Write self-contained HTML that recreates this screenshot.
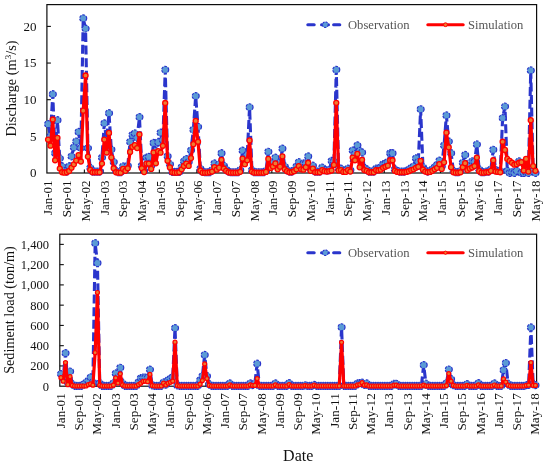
<!DOCTYPE html>
<html lang="en"><head><meta charset="utf-8"><title>Observation vs Simulation</title>
<style>html,body{margin:0;padding:0;background:#fff}svg{display:block}</style></head>
<body>
<svg width="550" height="467" viewBox="0 0 550 467" font-family="'Liberation Serif', serif">
<rect width="550" height="467" fill="#fff"/>
<g id="top">
<rect x="46.9" y="4.6" width="489.7" height="168.4" fill="none" stroke="#0d0d0d" stroke-width="1.2"/>
<g stroke="#0d0d0d" stroke-width="1.1">
<line x1="46.9" y1="136.35" x2="50.9" y2="136.35"/>
<line x1="46.9" y1="99.7" x2="50.9" y2="99.7"/>
<line x1="46.9" y1="63.05" x2="50.9" y2="63.05"/>
<line x1="46.9" y1="26.4" x2="50.9" y2="26.4"/>
<line x1="65.64" y1="173" x2="65.64" y2="169.5"/>
<line x1="84.39" y1="173" x2="84.39" y2="169.5"/>
<line x1="103.13" y1="173" x2="103.13" y2="169.5"/>
<line x1="121.88" y1="173" x2="121.88" y2="169.5"/>
<line x1="140.62" y1="173" x2="140.62" y2="169.5"/>
<line x1="159.37" y1="173" x2="159.37" y2="169.5"/>
<line x1="178.11" y1="173" x2="178.11" y2="169.5"/>
<line x1="196.86" y1="173" x2="196.86" y2="169.5"/>
<line x1="215.6" y1="173" x2="215.6" y2="169.5"/>
<line x1="234.34" y1="173" x2="234.34" y2="169.5"/>
<line x1="253.09" y1="173" x2="253.09" y2="169.5"/>
<line x1="271.83" y1="173" x2="271.83" y2="169.5"/>
<line x1="290.58" y1="173" x2="290.58" y2="169.5"/>
<line x1="309.32" y1="173" x2="309.32" y2="169.5"/>
<line x1="328.07" y1="173" x2="328.07" y2="169.5"/>
<line x1="346.81" y1="173" x2="346.81" y2="169.5"/>
<line x1="365.56" y1="173" x2="365.56" y2="169.5"/>
<line x1="384.3" y1="173" x2="384.3" y2="169.5"/>
<line x1="403.05" y1="173" x2="403.05" y2="169.5"/>
<line x1="421.79" y1="173" x2="421.79" y2="169.5"/>
<line x1="440.53" y1="173" x2="440.53" y2="169.5"/>
<line x1="459.28" y1="173" x2="459.28" y2="169.5"/>
<line x1="478.02" y1="173" x2="478.02" y2="169.5"/>
<line x1="496.77" y1="173" x2="496.77" y2="169.5"/>
<line x1="515.51" y1="173" x2="515.51" y2="169.5"/>
<line x1="534.26" y1="173" x2="534.26" y2="169.5"/>
</g>
<polyline points="48.07,124.11 50.41,136.35 52.76,94.2 55.1,153.21 57.44,120.22 59.79,158.34 62.13,166.4 64.47,170.8 66.82,171.53 69.16,166.4 71.5,156.36 73.85,147.34 76.19,141.48 78.53,131.95 80.87,148.08 83.22,18.34 85.56,28.6 87.9,148.08 90.25,167.87 92.59,171.53 94.93,171.53 97.28,171.53 99.62,171.53 101.96,157.61 104.31,123.3 106.65,140.01 108.99,113.19 111.33,149.54 113.68,162 116.02,170.8 118.36,172.27 120.71,172.27 123.05,166.4 125.39,169.34 127.74,165.67 130.08,141.85 132.42,134.88 134.76,133.42 137.11,137.82 139.45,117.07 141.79,165.67 144.14,170.8 146.48,157.61 148.82,156.87 151.17,165.67 153.51,142.95 155.85,151.01 158.2,142.21 160.54,132.69 162.88,140.01 165.22,69.79 167.57,156.14 169.91,164.2 172.25,171.9 174.6,171.9 176.94,171.9 179.28,171.9 181.63,167.14 183.97,161.27 186.31,159.07 188.66,162 191,150.28 193.34,129.75 195.68,96.03 198.03,126.82 200.37,168.6 202.71,171.9 205.06,172.27 207.4,172.27 209.74,172.27 212.09,170.07 214.43,163.47 216.77,167.14 219.12,164.2 221.46,153.21 223.8,165.67 226.14,169.34 228.49,171.53 230.83,172.27 233.17,172.27 235.52,172.27 237.86,172.27 240.2,170.07 242.55,150.57 244.89,158.34 247.23,154.68 249.57,107.25 251.92,170.07 254.26,172.27 256.6,172.27 258.95,172.27 261.29,172.27 263.63,172.27 265.98,170.8 268.32,151.74 270.66,164.94 273.01,162.74 275.35,157.61 277.69,166.4 280.03,163.47 282.38,148.59 284.72,166.4 287.06,170.07 289.41,171.53 291.75,171.53 294.09,170.07 296.44,166.4 298.78,162.15 301.12,166.4 303.47,163.47 305.81,163.47 308.15,156.36 310.49,168.6 312.84,165.67 315.18,171.53 317.52,171.53 319.87,171.53 322.21,167.5 324.55,170.07 326.9,170.43 329.24,170.07 331.58,160.83 333.93,161.27 336.27,69.79 338.61,168.6 340.95,168.6 343.3,170.8 345.64,170.8 347.98,168.6 350.33,170.07 352.67,150.5 355.01,153.94 357.36,145.37 359.7,151.01 362.04,152.48 364.38,167.87 366.73,169.34 369.07,171.53 371.41,171.53 373.76,171.53 376.1,168.6 378.44,168.6 380.79,167.14 383.13,164.2 385.47,163.47 387.82,162 390.16,153.21 392.5,153.21 394.84,169.34 397.19,170.8 399.53,171.53 401.87,171.53 404.22,171.53 406.56,170.8 408.9,169.7 411.25,167.87 413.59,166.4 415.93,158.34 418.28,162 420.62,109.23 422.96,167.14 425.3,170.07 427.65,171.53 429.99,170.8 432.33,169.34 434.68,167.14 437.02,164.94 439.36,160.54 441.71,166.4 444.05,145.51 446.39,115.39 448.74,141.48 451.08,153.21 453.42,170.8 455.76,172.27 458.11,172.27 460.45,170.8 462.79,162.74 465.14,154.97 467.48,167.14 469.82,165.67 472.17,161.27 474.51,162 476.85,144.41 479.19,169.34 481.54,172.27 483.88,172.27 486.22,171.53 488.57,171.53 490.91,169.34 493.25,149.76 495.6,170.07 497.94,170.8 500.28,170.8 502.63,118.03 504.97,106.52 507.31,170.8 509.65,173 512,172.27 514.34,173 516.68,170.8 519.03,161.27 521.37,173 523.71,173 526.06,172.27 528.4,173 530.74,70.38 533.09,170.8 535.43,173" fill="none" stroke="#2A35CC" stroke-width="3.1" stroke-dasharray="9 3.6" stroke-linejoin="round"/>
<g fill="#5B9BD5" stroke="#2A35CC" stroke-width="1.2" stroke-dasharray="2.6 1.2">
<circle cx="48.07" cy="124.11" r="3.5"/>
<circle cx="50.41" cy="136.35" r="3.5"/>
<circle cx="52.76" cy="94.2" r="3.5"/>
<circle cx="55.1" cy="153.21" r="3.5"/>
<circle cx="57.44" cy="120.22" r="3.5"/>
<circle cx="59.79" cy="158.34" r="3.5"/>
<circle cx="62.13" cy="166.4" r="3.5"/>
<circle cx="64.47" cy="170.8" r="3.5"/>
<circle cx="66.82" cy="171.53" r="3.5"/>
<circle cx="69.16" cy="166.4" r="3.5"/>
<circle cx="71.5" cy="156.36" r="3.5"/>
<circle cx="73.85" cy="147.34" r="3.5"/>
<circle cx="76.19" cy="141.48" r="3.5"/>
<circle cx="78.53" cy="131.95" r="3.5"/>
<circle cx="80.87" cy="148.08" r="3.5"/>
<circle cx="83.22" cy="18.34" r="3.5"/>
<circle cx="85.56" cy="28.6" r="3.5"/>
<circle cx="87.9" cy="148.08" r="3.5"/>
<circle cx="90.25" cy="167.87" r="3.5"/>
<circle cx="92.59" cy="171.53" r="3.5"/>
<circle cx="94.93" cy="171.53" r="3.5"/>
<circle cx="97.28" cy="171.53" r="3.5"/>
<circle cx="99.62" cy="171.53" r="3.5"/>
<circle cx="101.96" cy="157.61" r="3.5"/>
<circle cx="104.31" cy="123.3" r="3.5"/>
<circle cx="106.65" cy="140.01" r="3.5"/>
<circle cx="108.99" cy="113.19" r="3.5"/>
<circle cx="111.33" cy="149.54" r="3.5"/>
<circle cx="113.68" cy="162" r="3.5"/>
<circle cx="116.02" cy="170.8" r="3.5"/>
<circle cx="118.36" cy="172.27" r="3.5"/>
<circle cx="120.71" cy="172.27" r="3.5"/>
<circle cx="123.05" cy="166.4" r="3.5"/>
<circle cx="125.39" cy="169.34" r="3.5"/>
<circle cx="127.74" cy="165.67" r="3.5"/>
<circle cx="130.08" cy="141.85" r="3.5"/>
<circle cx="132.42" cy="134.88" r="3.5"/>
<circle cx="134.76" cy="133.42" r="3.5"/>
<circle cx="137.11" cy="137.82" r="3.5"/>
<circle cx="139.45" cy="117.07" r="3.5"/>
<circle cx="141.79" cy="165.67" r="3.5"/>
<circle cx="144.14" cy="170.8" r="3.5"/>
<circle cx="146.48" cy="157.61" r="3.5"/>
<circle cx="148.82" cy="156.87" r="3.5"/>
<circle cx="151.17" cy="165.67" r="3.5"/>
<circle cx="153.51" cy="142.95" r="3.5"/>
<circle cx="155.85" cy="151.01" r="3.5"/>
<circle cx="158.2" cy="142.21" r="3.5"/>
<circle cx="160.54" cy="132.69" r="3.5"/>
<circle cx="162.88" cy="140.01" r="3.5"/>
<circle cx="165.22" cy="69.79" r="3.5"/>
<circle cx="167.57" cy="156.14" r="3.5"/>
<circle cx="169.91" cy="164.2" r="3.5"/>
<circle cx="172.25" cy="171.9" r="3.5"/>
<circle cx="174.6" cy="171.9" r="3.5"/>
<circle cx="176.94" cy="171.9" r="3.5"/>
<circle cx="179.28" cy="171.9" r="3.5"/>
<circle cx="181.63" cy="167.14" r="3.5"/>
<circle cx="183.97" cy="161.27" r="3.5"/>
<circle cx="186.31" cy="159.07" r="3.5"/>
<circle cx="188.66" cy="162" r="3.5"/>
<circle cx="191" cy="150.28" r="3.5"/>
<circle cx="193.34" cy="129.75" r="3.5"/>
<circle cx="195.68" cy="96.03" r="3.5"/>
<circle cx="198.03" cy="126.82" r="3.5"/>
<circle cx="200.37" cy="168.6" r="3.5"/>
<circle cx="202.71" cy="171.9" r="3.5"/>
<circle cx="205.06" cy="172.27" r="3.5"/>
<circle cx="207.4" cy="172.27" r="3.5"/>
<circle cx="209.74" cy="172.27" r="3.5"/>
<circle cx="212.09" cy="170.07" r="3.5"/>
<circle cx="214.43" cy="163.47" r="3.5"/>
<circle cx="216.77" cy="167.14" r="3.5"/>
<circle cx="219.12" cy="164.2" r="3.5"/>
<circle cx="221.46" cy="153.21" r="3.5"/>
<circle cx="223.8" cy="165.67" r="3.5"/>
<circle cx="226.14" cy="169.34" r="3.5"/>
<circle cx="228.49" cy="171.53" r="3.5"/>
<circle cx="230.83" cy="172.27" r="3.5"/>
<circle cx="233.17" cy="172.27" r="3.5"/>
<circle cx="235.52" cy="172.27" r="3.5"/>
<circle cx="237.86" cy="172.27" r="3.5"/>
<circle cx="240.2" cy="170.07" r="3.5"/>
<circle cx="242.55" cy="150.57" r="3.5"/>
<circle cx="244.89" cy="158.34" r="3.5"/>
<circle cx="247.23" cy="154.68" r="3.5"/>
<circle cx="249.57" cy="107.25" r="3.5"/>
<circle cx="251.92" cy="170.07" r="3.5"/>
<circle cx="254.26" cy="172.27" r="3.5"/>
<circle cx="256.6" cy="172.27" r="3.5"/>
<circle cx="258.95" cy="172.27" r="3.5"/>
<circle cx="261.29" cy="172.27" r="3.5"/>
<circle cx="263.63" cy="172.27" r="3.5"/>
<circle cx="265.98" cy="170.8" r="3.5"/>
<circle cx="268.32" cy="151.74" r="3.5"/>
<circle cx="270.66" cy="164.94" r="3.5"/>
<circle cx="273.01" cy="162.74" r="3.5"/>
<circle cx="275.35" cy="157.61" r="3.5"/>
<circle cx="277.69" cy="166.4" r="3.5"/>
<circle cx="280.03" cy="163.47" r="3.5"/>
<circle cx="282.38" cy="148.59" r="3.5"/>
<circle cx="284.72" cy="166.4" r="3.5"/>
<circle cx="287.06" cy="170.07" r="3.5"/>
<circle cx="289.41" cy="171.53" r="3.5"/>
<circle cx="291.75" cy="171.53" r="3.5"/>
<circle cx="294.09" cy="170.07" r="3.5"/>
<circle cx="296.44" cy="166.4" r="3.5"/>
<circle cx="298.78" cy="162.15" r="3.5"/>
<circle cx="301.12" cy="166.4" r="3.5"/>
<circle cx="303.47" cy="163.47" r="3.5"/>
<circle cx="305.81" cy="163.47" r="3.5"/>
<circle cx="308.15" cy="156.36" r="3.5"/>
<circle cx="310.49" cy="168.6" r="3.5"/>
<circle cx="312.84" cy="165.67" r="3.5"/>
<circle cx="315.18" cy="171.53" r="3.5"/>
<circle cx="317.52" cy="171.53" r="3.5"/>
<circle cx="319.87" cy="171.53" r="3.5"/>
<circle cx="322.21" cy="167.5" r="3.5"/>
<circle cx="324.55" cy="170.07" r="3.5"/>
<circle cx="326.9" cy="170.43" r="3.5"/>
<circle cx="329.24" cy="170.07" r="3.5"/>
<circle cx="331.58" cy="160.83" r="3.5"/>
<circle cx="333.93" cy="161.27" r="3.5"/>
<circle cx="336.27" cy="69.79" r="3.5"/>
<circle cx="338.61" cy="168.6" r="3.5"/>
<circle cx="340.95" cy="168.6" r="3.5"/>
<circle cx="343.3" cy="170.8" r="3.5"/>
<circle cx="345.64" cy="170.8" r="3.5"/>
<circle cx="347.98" cy="168.6" r="3.5"/>
<circle cx="350.33" cy="170.07" r="3.5"/>
<circle cx="352.67" cy="150.5" r="3.5"/>
<circle cx="355.01" cy="153.94" r="3.5"/>
<circle cx="357.36" cy="145.37" r="3.5"/>
<circle cx="359.7" cy="151.01" r="3.5"/>
<circle cx="362.04" cy="152.48" r="3.5"/>
<circle cx="364.38" cy="167.87" r="3.5"/>
<circle cx="366.73" cy="169.34" r="3.5"/>
<circle cx="369.07" cy="171.53" r="3.5"/>
<circle cx="371.41" cy="171.53" r="3.5"/>
<circle cx="373.76" cy="171.53" r="3.5"/>
<circle cx="376.1" cy="168.6" r="3.5"/>
<circle cx="378.44" cy="168.6" r="3.5"/>
<circle cx="380.79" cy="167.14" r="3.5"/>
<circle cx="383.13" cy="164.2" r="3.5"/>
<circle cx="385.47" cy="163.47" r="3.5"/>
<circle cx="387.82" cy="162" r="3.5"/>
<circle cx="390.16" cy="153.21" r="3.5"/>
<circle cx="392.5" cy="153.21" r="3.5"/>
<circle cx="394.84" cy="169.34" r="3.5"/>
<circle cx="397.19" cy="170.8" r="3.5"/>
<circle cx="399.53" cy="171.53" r="3.5"/>
<circle cx="401.87" cy="171.53" r="3.5"/>
<circle cx="404.22" cy="171.53" r="3.5"/>
<circle cx="406.56" cy="170.8" r="3.5"/>
<circle cx="408.9" cy="169.7" r="3.5"/>
<circle cx="411.25" cy="167.87" r="3.5"/>
<circle cx="413.59" cy="166.4" r="3.5"/>
<circle cx="415.93" cy="158.34" r="3.5"/>
<circle cx="418.28" cy="162" r="3.5"/>
<circle cx="420.62" cy="109.23" r="3.5"/>
<circle cx="422.96" cy="167.14" r="3.5"/>
<circle cx="425.3" cy="170.07" r="3.5"/>
<circle cx="427.65" cy="171.53" r="3.5"/>
<circle cx="429.99" cy="170.8" r="3.5"/>
<circle cx="432.33" cy="169.34" r="3.5"/>
<circle cx="434.68" cy="167.14" r="3.5"/>
<circle cx="437.02" cy="164.94" r="3.5"/>
<circle cx="439.36" cy="160.54" r="3.5"/>
<circle cx="441.71" cy="166.4" r="3.5"/>
<circle cx="444.05" cy="145.51" r="3.5"/>
<circle cx="446.39" cy="115.39" r="3.5"/>
<circle cx="448.74" cy="141.48" r="3.5"/>
<circle cx="451.08" cy="153.21" r="3.5"/>
<circle cx="453.42" cy="170.8" r="3.5"/>
<circle cx="455.76" cy="172.27" r="3.5"/>
<circle cx="458.11" cy="172.27" r="3.5"/>
<circle cx="460.45" cy="170.8" r="3.5"/>
<circle cx="462.79" cy="162.74" r="3.5"/>
<circle cx="465.14" cy="154.97" r="3.5"/>
<circle cx="467.48" cy="167.14" r="3.5"/>
<circle cx="469.82" cy="165.67" r="3.5"/>
<circle cx="472.17" cy="161.27" r="3.5"/>
<circle cx="474.51" cy="162" r="3.5"/>
<circle cx="476.85" cy="144.41" r="3.5"/>
<circle cx="479.19" cy="169.34" r="3.5"/>
<circle cx="481.54" cy="172.27" r="3.5"/>
<circle cx="483.88" cy="172.27" r="3.5"/>
<circle cx="486.22" cy="171.53" r="3.5"/>
<circle cx="488.57" cy="171.53" r="3.5"/>
<circle cx="490.91" cy="169.34" r="3.5"/>
<circle cx="493.25" cy="149.76" r="3.5"/>
<circle cx="495.6" cy="170.07" r="3.5"/>
<circle cx="497.94" cy="170.8" r="3.5"/>
<circle cx="500.28" cy="170.8" r="3.5"/>
<circle cx="502.63" cy="118.03" r="3.5"/>
<circle cx="504.97" cy="106.52" r="3.5"/>
<circle cx="507.31" cy="170.8" r="3.5"/>
<circle cx="509.65" cy="173" r="3.5"/>
<circle cx="512" cy="172.27" r="3.5"/>
<circle cx="514.34" cy="173" r="3.5"/>
<circle cx="516.68" cy="170.8" r="3.5"/>
<circle cx="519.03" cy="161.27" r="3.5"/>
<circle cx="521.37" cy="173" r="3.5"/>
<circle cx="523.71" cy="173" r="3.5"/>
<circle cx="526.06" cy="172.27" r="3.5"/>
<circle cx="528.4" cy="173" r="3.5"/>
<circle cx="530.74" cy="70.38" r="3.5"/>
<circle cx="533.09" cy="170.8" r="3.5"/>
<circle cx="535.43" cy="173" r="3.5"/>
</g>
<polyline points="48.07,139.58 50.41,145.66 52.76,119.49 55.1,160.25 57.44,137.82 59.79,168.6 62.13,172.27 64.47,172.63 66.82,172.27 69.16,170.95 71.5,167.72 73.85,164.35 76.19,160.61 78.53,155.04 80.87,161.49 83.22,110.69 85.56,75.51 87.9,156.58 90.25,169.92 92.59,172.27 94.93,172.27 97.28,172.27 99.62,172.27 101.96,163.54 104.31,139.58 106.65,152.48 108.99,132.9 111.33,157.39 113.68,168.24 116.02,172.27 118.36,172.63 120.71,172.63 123.05,168.97 125.39,170.8 127.74,168.24 130.08,151.96 132.42,146.83 134.76,145.15 137.11,148.08 139.45,134.44 141.79,168.24 144.14,172.05 146.48,163.54 148.82,163.54 151.17,168.97 153.51,152.48 155.85,163.25 158.2,151.16 160.54,152.7 162.88,145.73 165.22,103 167.57,160.76 169.91,167.43 172.25,172.27 174.6,172.63 176.94,172.63 179.28,172.27 181.63,169.34 183.97,165.89 186.31,163.54 188.66,165.89 191,158.12 193.34,144.19 195.68,120.96 198.03,141.77 200.37,170.51 202.71,172.63 205.06,172.63 207.4,172.63 209.74,172.27 212.09,171.53 214.43,167.14 216.77,169.7 219.12,167.72 221.46,159.81 223.8,168.6 226.14,170.8 228.49,172.27 230.83,172.63 233.17,172.63 235.52,172.63 237.86,172.63 240.2,171.83 242.55,158.56 244.89,164.2 247.23,160.25 249.57,140.45 251.92,171.53 254.26,172.63 256.6,172.63 258.95,172.63 261.29,172.63 263.63,172.63 265.98,171.9 268.32,158.93 270.66,168.02 273.01,166.4 275.35,163.47 277.69,169.34 280.03,166.7 282.38,156.36 284.72,169.34 287.06,171.17 289.41,172.27 291.75,172.27 294.09,171.17 296.44,169.34 298.78,166.04 301.12,169.34 303.47,169.7 305.81,167.14 308.15,162.74 310.49,170.8 312.84,168.6 315.18,172.27 317.52,172.27 319.87,172.27 322.21,170.07 324.55,171.17 326.9,171.53 329.24,171.17 331.58,170.51 333.93,164.94 336.27,102.85 338.61,170.43 340.95,170.07 343.3,171.9 345.64,171.9 347.98,170.07 350.33,171.53 352.67,157.61 355.01,160.25 357.36,153.94 359.7,167.28 362.04,159.81 364.38,170.07 366.73,170.8 369.07,172.27 371.41,172.27 373.76,172.27 376.1,170.07 378.44,170.43 380.79,169.7 383.13,167.87 385.47,166.77 387.82,165.67 390.16,160.25 392.5,160.25 394.84,170.8 397.19,171.9 399.53,172.27 401.87,172.27 404.22,172.27 406.56,171.9 408.9,171.17 411.25,170.07 413.59,169.34 415.93,167.87 418.28,166.77 420.62,160.83 422.96,169.7 425.3,171.53 427.65,172.27 429.99,171.9 432.33,170.8 434.68,169.34 437.02,167.87 439.36,164.2 441.71,168.97 444.05,162.37 446.39,132.69 448.74,147.34 451.08,167.14 453.42,172.27 455.76,172.63 458.11,172.63 460.45,172.27 462.79,167.14 465.14,163.18 467.48,170.07 469.82,168.6 472.17,167.5 474.51,166.04 476.85,157.61 479.19,171.17 481.54,172.63 483.88,172.63 486.22,172.27 488.57,172.27 490.91,170.8 493.25,160.25 495.6,171.53 497.94,171.9 500.28,172.27 502.63,141.77 504.97,149.91 507.31,158.93 509.65,160.83 512,162.74 514.34,164.72 516.68,164.2 519.03,162.74 521.37,162.15 523.71,170.51 526.06,158.93 528.4,171.53 530.74,120.22 533.09,166.04 535.43,170.8" fill="none" stroke="#FF0000" stroke-width="3.2" stroke-linejoin="round"/>
<g fill="#ED7D31" stroke="#FF0000" stroke-width="1.3">
<circle cx="48.07" cy="139.58" r="2.5"/>
<circle cx="50.41" cy="145.66" r="2.5"/>
<circle cx="52.76" cy="119.49" r="2.5"/>
<circle cx="55.1" cy="160.25" r="2.5"/>
<circle cx="57.44" cy="137.82" r="2.5"/>
<circle cx="59.79" cy="168.6" r="2.5"/>
<circle cx="62.13" cy="172.27" r="2.5"/>
<circle cx="64.47" cy="172.63" r="2.5"/>
<circle cx="66.82" cy="172.27" r="2.5"/>
<circle cx="69.16" cy="170.95" r="2.5"/>
<circle cx="71.5" cy="167.72" r="2.5"/>
<circle cx="73.85" cy="164.35" r="2.5"/>
<circle cx="76.19" cy="160.61" r="2.5"/>
<circle cx="78.53" cy="155.04" r="2.5"/>
<circle cx="80.87" cy="161.49" r="2.5"/>
<circle cx="83.22" cy="110.69" r="2.5"/>
<circle cx="85.56" cy="75.51" r="2.5"/>
<circle cx="87.9" cy="156.58" r="2.5"/>
<circle cx="90.25" cy="169.92" r="2.5"/>
<circle cx="92.59" cy="172.27" r="2.5"/>
<circle cx="94.93" cy="172.27" r="2.5"/>
<circle cx="97.28" cy="172.27" r="2.5"/>
<circle cx="99.62" cy="172.27" r="2.5"/>
<circle cx="101.96" cy="163.54" r="2.5"/>
<circle cx="104.31" cy="139.58" r="2.5"/>
<circle cx="106.65" cy="152.48" r="2.5"/>
<circle cx="108.99" cy="132.9" r="2.5"/>
<circle cx="111.33" cy="157.39" r="2.5"/>
<circle cx="113.68" cy="168.24" r="2.5"/>
<circle cx="116.02" cy="172.27" r="2.5"/>
<circle cx="118.36" cy="172.63" r="2.5"/>
<circle cx="120.71" cy="172.63" r="2.5"/>
<circle cx="123.05" cy="168.97" r="2.5"/>
<circle cx="125.39" cy="170.8" r="2.5"/>
<circle cx="127.74" cy="168.24" r="2.5"/>
<circle cx="130.08" cy="151.96" r="2.5"/>
<circle cx="132.42" cy="146.83" r="2.5"/>
<circle cx="134.76" cy="145.15" r="2.5"/>
<circle cx="137.11" cy="148.08" r="2.5"/>
<circle cx="139.45" cy="134.44" r="2.5"/>
<circle cx="141.79" cy="168.24" r="2.5"/>
<circle cx="144.14" cy="172.05" r="2.5"/>
<circle cx="146.48" cy="163.54" r="2.5"/>
<circle cx="148.82" cy="163.54" r="2.5"/>
<circle cx="151.17" cy="168.97" r="2.5"/>
<circle cx="153.51" cy="152.48" r="2.5"/>
<circle cx="155.85" cy="163.25" r="2.5"/>
<circle cx="158.2" cy="151.16" r="2.5"/>
<circle cx="160.54" cy="152.7" r="2.5"/>
<circle cx="162.88" cy="145.73" r="2.5"/>
<circle cx="165.22" cy="103" r="2.5"/>
<circle cx="167.57" cy="160.76" r="2.5"/>
<circle cx="169.91" cy="167.43" r="2.5"/>
<circle cx="172.25" cy="172.27" r="2.5"/>
<circle cx="174.6" cy="172.63" r="2.5"/>
<circle cx="176.94" cy="172.63" r="2.5"/>
<circle cx="179.28" cy="172.27" r="2.5"/>
<circle cx="181.63" cy="169.34" r="2.5"/>
<circle cx="183.97" cy="165.89" r="2.5"/>
<circle cx="186.31" cy="163.54" r="2.5"/>
<circle cx="188.66" cy="165.89" r="2.5"/>
<circle cx="191" cy="158.12" r="2.5"/>
<circle cx="193.34" cy="144.19" r="2.5"/>
<circle cx="195.68" cy="120.96" r="2.5"/>
<circle cx="198.03" cy="141.77" r="2.5"/>
<circle cx="200.37" cy="170.51" r="2.5"/>
<circle cx="202.71" cy="172.63" r="2.5"/>
<circle cx="205.06" cy="172.63" r="2.5"/>
<circle cx="207.4" cy="172.63" r="2.5"/>
<circle cx="209.74" cy="172.27" r="2.5"/>
<circle cx="212.09" cy="171.53" r="2.5"/>
<circle cx="214.43" cy="167.14" r="2.5"/>
<circle cx="216.77" cy="169.7" r="2.5"/>
<circle cx="219.12" cy="167.72" r="2.5"/>
<circle cx="221.46" cy="159.81" r="2.5"/>
<circle cx="223.8" cy="168.6" r="2.5"/>
<circle cx="226.14" cy="170.8" r="2.5"/>
<circle cx="228.49" cy="172.27" r="2.5"/>
<circle cx="230.83" cy="172.63" r="2.5"/>
<circle cx="233.17" cy="172.63" r="2.5"/>
<circle cx="235.52" cy="172.63" r="2.5"/>
<circle cx="237.86" cy="172.63" r="2.5"/>
<circle cx="240.2" cy="171.83" r="2.5"/>
<circle cx="242.55" cy="158.56" r="2.5"/>
<circle cx="244.89" cy="164.2" r="2.5"/>
<circle cx="247.23" cy="160.25" r="2.5"/>
<circle cx="249.57" cy="140.45" r="2.5"/>
<circle cx="251.92" cy="171.53" r="2.5"/>
<circle cx="254.26" cy="172.63" r="2.5"/>
<circle cx="256.6" cy="172.63" r="2.5"/>
<circle cx="258.95" cy="172.63" r="2.5"/>
<circle cx="261.29" cy="172.63" r="2.5"/>
<circle cx="263.63" cy="172.63" r="2.5"/>
<circle cx="265.98" cy="171.9" r="2.5"/>
<circle cx="268.32" cy="158.93" r="2.5"/>
<circle cx="270.66" cy="168.02" r="2.5"/>
<circle cx="273.01" cy="166.4" r="2.5"/>
<circle cx="275.35" cy="163.47" r="2.5"/>
<circle cx="277.69" cy="169.34" r="2.5"/>
<circle cx="280.03" cy="166.7" r="2.5"/>
<circle cx="282.38" cy="156.36" r="2.5"/>
<circle cx="284.72" cy="169.34" r="2.5"/>
<circle cx="287.06" cy="171.17" r="2.5"/>
<circle cx="289.41" cy="172.27" r="2.5"/>
<circle cx="291.75" cy="172.27" r="2.5"/>
<circle cx="294.09" cy="171.17" r="2.5"/>
<circle cx="296.44" cy="169.34" r="2.5"/>
<circle cx="298.78" cy="166.04" r="2.5"/>
<circle cx="301.12" cy="169.34" r="2.5"/>
<circle cx="303.47" cy="169.7" r="2.5"/>
<circle cx="305.81" cy="167.14" r="2.5"/>
<circle cx="308.15" cy="162.74" r="2.5"/>
<circle cx="310.49" cy="170.8" r="2.5"/>
<circle cx="312.84" cy="168.6" r="2.5"/>
<circle cx="315.18" cy="172.27" r="2.5"/>
<circle cx="317.52" cy="172.27" r="2.5"/>
<circle cx="319.87" cy="172.27" r="2.5"/>
<circle cx="322.21" cy="170.07" r="2.5"/>
<circle cx="324.55" cy="171.17" r="2.5"/>
<circle cx="326.9" cy="171.53" r="2.5"/>
<circle cx="329.24" cy="171.17" r="2.5"/>
<circle cx="331.58" cy="170.51" r="2.5"/>
<circle cx="333.93" cy="164.94" r="2.5"/>
<circle cx="336.27" cy="102.85" r="2.5"/>
<circle cx="338.61" cy="170.43" r="2.5"/>
<circle cx="340.95" cy="170.07" r="2.5"/>
<circle cx="343.3" cy="171.9" r="2.5"/>
<circle cx="345.64" cy="171.9" r="2.5"/>
<circle cx="347.98" cy="170.07" r="2.5"/>
<circle cx="350.33" cy="171.53" r="2.5"/>
<circle cx="352.67" cy="157.61" r="2.5"/>
<circle cx="355.01" cy="160.25" r="2.5"/>
<circle cx="357.36" cy="153.94" r="2.5"/>
<circle cx="359.7" cy="167.28" r="2.5"/>
<circle cx="362.04" cy="159.81" r="2.5"/>
<circle cx="364.38" cy="170.07" r="2.5"/>
<circle cx="366.73" cy="170.8" r="2.5"/>
<circle cx="369.07" cy="172.27" r="2.5"/>
<circle cx="371.41" cy="172.27" r="2.5"/>
<circle cx="373.76" cy="172.27" r="2.5"/>
<circle cx="376.1" cy="170.07" r="2.5"/>
<circle cx="378.44" cy="170.43" r="2.5"/>
<circle cx="380.79" cy="169.7" r="2.5"/>
<circle cx="383.13" cy="167.87" r="2.5"/>
<circle cx="385.47" cy="166.77" r="2.5"/>
<circle cx="387.82" cy="165.67" r="2.5"/>
<circle cx="390.16" cy="160.25" r="2.5"/>
<circle cx="392.5" cy="160.25" r="2.5"/>
<circle cx="394.84" cy="170.8" r="2.5"/>
<circle cx="397.19" cy="171.9" r="2.5"/>
<circle cx="399.53" cy="172.27" r="2.5"/>
<circle cx="401.87" cy="172.27" r="2.5"/>
<circle cx="404.22" cy="172.27" r="2.5"/>
<circle cx="406.56" cy="171.9" r="2.5"/>
<circle cx="408.9" cy="171.17" r="2.5"/>
<circle cx="411.25" cy="170.07" r="2.5"/>
<circle cx="413.59" cy="169.34" r="2.5"/>
<circle cx="415.93" cy="167.87" r="2.5"/>
<circle cx="418.28" cy="166.77" r="2.5"/>
<circle cx="420.62" cy="160.83" r="2.5"/>
<circle cx="422.96" cy="169.7" r="2.5"/>
<circle cx="425.3" cy="171.53" r="2.5"/>
<circle cx="427.65" cy="172.27" r="2.5"/>
<circle cx="429.99" cy="171.9" r="2.5"/>
<circle cx="432.33" cy="170.8" r="2.5"/>
<circle cx="434.68" cy="169.34" r="2.5"/>
<circle cx="437.02" cy="167.87" r="2.5"/>
<circle cx="439.36" cy="164.2" r="2.5"/>
<circle cx="441.71" cy="168.97" r="2.5"/>
<circle cx="444.05" cy="162.37" r="2.5"/>
<circle cx="446.39" cy="132.69" r="2.5"/>
<circle cx="448.74" cy="147.34" r="2.5"/>
<circle cx="451.08" cy="167.14" r="2.5"/>
<circle cx="453.42" cy="172.27" r="2.5"/>
<circle cx="455.76" cy="172.63" r="2.5"/>
<circle cx="458.11" cy="172.63" r="2.5"/>
<circle cx="460.45" cy="172.27" r="2.5"/>
<circle cx="462.79" cy="167.14" r="2.5"/>
<circle cx="465.14" cy="163.18" r="2.5"/>
<circle cx="467.48" cy="170.07" r="2.5"/>
<circle cx="469.82" cy="168.6" r="2.5"/>
<circle cx="472.17" cy="167.5" r="2.5"/>
<circle cx="474.51" cy="166.04" r="2.5"/>
<circle cx="476.85" cy="157.61" r="2.5"/>
<circle cx="479.19" cy="171.17" r="2.5"/>
<circle cx="481.54" cy="172.63" r="2.5"/>
<circle cx="483.88" cy="172.63" r="2.5"/>
<circle cx="486.22" cy="172.27" r="2.5"/>
<circle cx="488.57" cy="172.27" r="2.5"/>
<circle cx="490.91" cy="170.8" r="2.5"/>
<circle cx="493.25" cy="160.25" r="2.5"/>
<circle cx="495.6" cy="171.53" r="2.5"/>
<circle cx="497.94" cy="171.9" r="2.5"/>
<circle cx="500.28" cy="172.27" r="2.5"/>
<circle cx="502.63" cy="141.77" r="2.5"/>
<circle cx="504.97" cy="149.91" r="2.5"/>
<circle cx="507.31" cy="158.93" r="2.5"/>
<circle cx="509.65" cy="160.83" r="2.5"/>
<circle cx="512" cy="162.74" r="2.5"/>
<circle cx="514.34" cy="164.72" r="2.5"/>
<circle cx="516.68" cy="164.2" r="2.5"/>
<circle cx="519.03" cy="162.74" r="2.5"/>
<circle cx="521.37" cy="162.15" r="2.5"/>
<circle cx="523.71" cy="170.51" r="2.5"/>
<circle cx="526.06" cy="158.93" r="2.5"/>
<circle cx="528.4" cy="171.53" r="2.5"/>
<circle cx="530.74" cy="120.22" r="2.5"/>
<circle cx="533.09" cy="166.04" r="2.5"/>
<circle cx="535.43" cy="170.8" r="2.5"/>
</g>
<g font-size="13" fill="#111" text-anchor="end">
<text x="36.5" y="177.4">0</text>
<text x="36.5" y="140.75">5</text>
<text x="36.5" y="104.1">10</text>
<text x="36.5" y="67.45">15</text>
<text x="36.5" y="30.8">20</text>
</g>
<g font-size="13" fill="#111" text-anchor="end">
<text transform="translate(52.37 180.4) rotate(-90)">Jan-01</text>
<text transform="translate(71.12 180.4) rotate(-90)">Sep-01</text>
<text transform="translate(89.86 180.4) rotate(-90)">May-02</text>
<text transform="translate(108.61 180.4) rotate(-90)">Jan-03</text>
<text transform="translate(127.35 180.4) rotate(-90)">Sep-03</text>
<text transform="translate(146.09 180.4) rotate(-90)">May-04</text>
<text transform="translate(164.84 180.4) rotate(-90)">Jan-05</text>
<text transform="translate(183.58 180.4) rotate(-90)">Sep-05</text>
<text transform="translate(202.33 180.4) rotate(-90)">May-06</text>
<text transform="translate(221.07 180.4) rotate(-90)">Jan-07</text>
<text transform="translate(239.82 180.4) rotate(-90)">Sep-07</text>
<text transform="translate(258.56 180.4) rotate(-90)">May-08</text>
<text transform="translate(277.31 180.4) rotate(-90)">Jan-09</text>
<text transform="translate(296.05 180.4) rotate(-90)">Sep-09</text>
<text transform="translate(314.79 180.4) rotate(-90)">May-10</text>
<text transform="translate(333.54 180.4) rotate(-90)">Jan-11</text>
<text transform="translate(352.28 180.4) rotate(-90)">Sep-11</text>
<text transform="translate(371.03 180.4) rotate(-90)">May-12</text>
<text transform="translate(389.77 180.4) rotate(-90)">Jan-13</text>
<text transform="translate(408.52 180.4) rotate(-90)">Sep-13</text>
<text transform="translate(427.26 180.4) rotate(-90)">May-14</text>
<text transform="translate(446.01 180.4) rotate(-90)">Jan-15</text>
<text transform="translate(464.75 180.4) rotate(-90)">Sep-15</text>
<text transform="translate(483.49 180.4) rotate(-90)">May-16</text>
<text transform="translate(502.24 180.4) rotate(-90)">Jan-17</text>
<text transform="translate(520.98 180.4) rotate(-90)">Sep-17</text>
<text transform="translate(539.73 180.4) rotate(-90)">May-18</text>
</g>
<text transform="translate(15.8 88.5) rotate(-90)" font-size="14.3" fill="#111" text-anchor="middle">Discharge (m<tspan font-size="9" dy="-5">3</tspan><tspan dy="5">/s)</tspan></text>
<line x1="307.8" y1="24.7" x2="314.2" y2="24.7" stroke="#2A35CC" stroke-width="3" stroke-linecap="round"/>
<line x1="321.5" y1="24.7" x2="328.5" y2="24.7" stroke="#2A35CC" stroke-width="3" stroke-linecap="round"/>
<line x1="333.6" y1="24.7" x2="339.8" y2="24.7" stroke="#2A35CC" stroke-width="3" stroke-linecap="round"/>
<circle cx="325.3" cy="24.7" r="2.8" fill="#5B9BD5" stroke="#2A35CC" stroke-width="1.1" stroke-dasharray="2.2 1.1"/>
<text x="348" y="28.6" font-size="12.6" fill="#555">Observation</text>
<line x1="427.8" y1="24.7" x2="463.2" y2="24.7" stroke="#FF0000" stroke-width="3" stroke-linecap="round"/>
<circle cx="445.5" cy="24.7" r="1.9" fill="#ED7D31" stroke="#FF0000" stroke-width="1"/>
<text x="468" y="28.6" font-size="12.6" fill="#555">Simulation</text>
</g>
<g id="bot">
<rect x="59.8" y="234.2" width="476.8" height="152" fill="none" stroke="#0d0d0d" stroke-width="1.2"/>
<g stroke="#0d0d0d" stroke-width="1.1">
<line x1="59.8" y1="365.94" x2="63.8" y2="365.94"/>
<line x1="59.8" y1="345.68" x2="63.8" y2="345.68"/>
<line x1="59.8" y1="325.42" x2="63.8" y2="325.42"/>
<line x1="59.8" y1="305.16" x2="63.8" y2="305.16"/>
<line x1="59.8" y1="284.9" x2="63.8" y2="284.9"/>
<line x1="59.8" y1="264.64" x2="63.8" y2="264.64"/>
<line x1="59.8" y1="244.38" x2="63.8" y2="244.38"/>
<line x1="78.05" y1="386.2" x2="78.05" y2="382.7"/>
<line x1="96.3" y1="386.2" x2="96.3" y2="382.7"/>
<line x1="114.55" y1="386.2" x2="114.55" y2="382.7"/>
<line x1="132.8" y1="386.2" x2="132.8" y2="382.7"/>
<line x1="151.05" y1="386.2" x2="151.05" y2="382.7"/>
<line x1="169.3" y1="386.2" x2="169.3" y2="382.7"/>
<line x1="187.56" y1="386.2" x2="187.56" y2="382.7"/>
<line x1="205.81" y1="386.2" x2="205.81" y2="382.7"/>
<line x1="224.06" y1="386.2" x2="224.06" y2="382.7"/>
<line x1="242.31" y1="386.2" x2="242.31" y2="382.7"/>
<line x1="260.56" y1="386.2" x2="260.56" y2="382.7"/>
<line x1="278.81" y1="386.2" x2="278.81" y2="382.7"/>
<line x1="297.06" y1="386.2" x2="297.06" y2="382.7"/>
<line x1="315.31" y1="386.2" x2="315.31" y2="382.7"/>
<line x1="333.56" y1="386.2" x2="333.56" y2="382.7"/>
<line x1="351.81" y1="386.2" x2="351.81" y2="382.7"/>
<line x1="370.06" y1="386.2" x2="370.06" y2="382.7"/>
<line x1="388.31" y1="386.2" x2="388.31" y2="382.7"/>
<line x1="406.56" y1="386.2" x2="406.56" y2="382.7"/>
<line x1="424.81" y1="386.2" x2="424.81" y2="382.7"/>
<line x1="443.07" y1="386.2" x2="443.07" y2="382.7"/>
<line x1="461.32" y1="386.2" x2="461.32" y2="382.7"/>
<line x1="479.57" y1="386.2" x2="479.57" y2="382.7"/>
<line x1="497.82" y1="386.2" x2="497.82" y2="382.7"/>
<line x1="516.07" y1="386.2" x2="516.07" y2="382.7"/>
<line x1="534.32" y1="386.2" x2="534.32" y2="382.7"/>
</g>
<polyline points="60.94,374.04 63.22,378.1 65.5,353.07 67.78,382.15 70.07,371.51 72.35,384.17 74.63,385.86 76.91,385.86 79.19,385.86 81.47,385.86 83.75,384.17 86.04,382.65 88.32,380.63 90.6,377.29 92.88,382.15 95.16,243.16 97.44,263.02 99.72,383.16 102,385.86 104.29,385.86 106.57,385.86 108.85,385.86 111.13,385.86 113.41,383.16 115.69,373.44 117.97,377.59 120.26,367.76 122.54,383.16 124.82,385.86 127.1,385.86 129.38,385.86 131.66,385.86 133.94,385.86 136.22,385.86 138.51,382.15 140.79,378.1 143.07,377.59 145.35,377.59 147.63,378.1 149.91,369.59 152.19,385.37 154.48,385.86 156.76,385.86 159.04,385.86 161.32,385.86 163.6,382.45 165.88,384.64 168.16,380.12 170.44,378.6 172.73,377.08 175.01,328.05 177.29,385.37 179.57,385.86 181.85,385.86 184.13,385.86 186.41,385.86 188.7,385.86 190.98,385.86 193.26,385.86 195.54,385.86 197.82,385.86 200.1,380.12 202.38,376.07 204.67,354.9 206.95,376.07 209.23,384.17 211.51,385.86 213.79,385.86 216.07,385.86 218.35,385.86 220.63,385.86 222.92,385.86 225.2,385.86 227.48,385.86 229.76,383.36 232.04,385.86 234.32,385.86 236.6,385.86 238.89,385.86 241.17,385.86 243.45,385.86 245.73,385.86 248.01,385.86 250.29,383.36 252.57,385.13 254.85,383.36 257.14,363.71 259.42,385.86 261.7,385.86 263.98,385.86 266.26,385.86 268.54,385.86 270.82,385.86 273.11,385.86 275.39,383.36 277.67,385.86 279.95,385.86 282.23,385.86 284.51,385.86 286.79,385.86 289.07,383.06 291.36,385.86 293.64,385.86 295.92,385.86 298.2,385.86 300.48,385.86 302.76,385.86 305.04,385.37 307.33,385.86 309.61,385.86 311.89,385.86 314.17,384.88 316.45,385.86 318.73,385.86 321.01,385.86 323.29,385.86 325.58,385.86 327.86,385.86 330.14,385.86 332.42,385.86 334.7,385.86 336.98,385.86 339.26,385.86 341.55,327.24 343.83,385.86 346.11,385.86 348.39,385.86 350.67,385.86 352.95,385.86 355.23,385.86 357.51,383.36 359.8,383.06 362.08,382.65 364.36,384.88 366.64,383.36 368.92,385.86 371.2,385.86 373.48,385.86 375.77,385.86 378.05,385.86 380.33,385.86 382.61,385.86 384.89,385.86 387.17,385.86 389.45,385.86 391.73,385.86 394.02,383.77 396.3,383.77 398.58,385.86 400.86,385.86 403.14,385.86 405.42,385.86 407.7,385.86 409.99,385.86 412.27,385.86 414.55,385.86 416.83,385.86 419.11,385.86 421.39,385.86 423.67,365.03 425.96,383.67 428.24,385.86 430.52,385.86 432.8,385.86 435.08,385.86 437.36,385.86 439.64,385.86 441.92,385.86 444.21,385.86 446.49,383.06 448.77,369.49 451.05,379.11 453.33,385.13 455.61,385.86 457.89,385.86 460.18,385.86 462.46,385.86 464.74,385.86 467.02,384.07 469.3,385.86 471.58,385.86 473.86,385.86 476.14,385.86 478.43,383.06 480.71,385.86 482.99,385.86 485.27,385.86 487.55,385.86 489.83,385.86 492.11,385.86 494.4,383.36 496.68,385.86 498.96,385.86 501.24,385.86 503.52,370.09 505.8,363 508.08,383.67 510.36,385.86 512.65,385.86 514.93,385.86 517.21,385.86 519.49,385.86 521.77,385.86 524.05,385.86 526.33,385.13 528.62,384.88 530.9,327.45 533.18,384.17 535.46,385.13" fill="none" stroke="#2A35CC" stroke-width="3.1" stroke-dasharray="9 3.6" stroke-linejoin="round"/>
<g fill="#5B9BD5" stroke="#2A35CC" stroke-width="1.2" stroke-dasharray="2.6 1.2">
<circle cx="60.94" cy="374.04" r="3.5"/>
<circle cx="63.22" cy="378.1" r="3.5"/>
<circle cx="65.5" cy="353.07" r="3.5"/>
<circle cx="67.78" cy="382.15" r="3.5"/>
<circle cx="70.07" cy="371.51" r="3.5"/>
<circle cx="72.35" cy="384.17" r="3.5"/>
<circle cx="74.63" cy="385.86" r="3.5"/>
<circle cx="76.91" cy="385.86" r="3.5"/>
<circle cx="79.19" cy="385.86" r="3.5"/>
<circle cx="81.47" cy="385.86" r="3.5"/>
<circle cx="83.75" cy="384.17" r="3.5"/>
<circle cx="86.04" cy="382.65" r="3.5"/>
<circle cx="88.32" cy="380.63" r="3.5"/>
<circle cx="90.6" cy="377.29" r="3.5"/>
<circle cx="92.88" cy="382.15" r="3.5"/>
<circle cx="95.16" cy="243.16" r="3.5"/>
<circle cx="97.44" cy="263.02" r="3.5"/>
<circle cx="99.72" cy="383.16" r="3.5"/>
<circle cx="102" cy="385.86" r="3.5"/>
<circle cx="104.29" cy="385.86" r="3.5"/>
<circle cx="106.57" cy="385.86" r="3.5"/>
<circle cx="108.85" cy="385.86" r="3.5"/>
<circle cx="111.13" cy="385.86" r="3.5"/>
<circle cx="113.41" cy="383.16" r="3.5"/>
<circle cx="115.69" cy="373.44" r="3.5"/>
<circle cx="117.97" cy="377.59" r="3.5"/>
<circle cx="120.26" cy="367.76" r="3.5"/>
<circle cx="122.54" cy="383.16" r="3.5"/>
<circle cx="124.82" cy="385.86" r="3.5"/>
<circle cx="127.1" cy="385.86" r="3.5"/>
<circle cx="129.38" cy="385.86" r="3.5"/>
<circle cx="131.66" cy="385.86" r="3.5"/>
<circle cx="133.94" cy="385.86" r="3.5"/>
<circle cx="136.22" cy="385.86" r="3.5"/>
<circle cx="138.51" cy="382.15" r="3.5"/>
<circle cx="140.79" cy="378.1" r="3.5"/>
<circle cx="143.07" cy="377.59" r="3.5"/>
<circle cx="145.35" cy="377.59" r="3.5"/>
<circle cx="147.63" cy="378.1" r="3.5"/>
<circle cx="149.91" cy="369.59" r="3.5"/>
<circle cx="152.19" cy="385.37" r="3.5"/>
<circle cx="154.48" cy="385.86" r="3.5"/>
<circle cx="156.76" cy="385.86" r="3.5"/>
<circle cx="159.04" cy="385.86" r="3.5"/>
<circle cx="161.32" cy="385.86" r="3.5"/>
<circle cx="163.6" cy="382.45" r="3.5"/>
<circle cx="165.88" cy="384.64" r="3.5"/>
<circle cx="168.16" cy="380.12" r="3.5"/>
<circle cx="170.44" cy="378.6" r="3.5"/>
<circle cx="172.73" cy="377.08" r="3.5"/>
<circle cx="175.01" cy="328.05" r="3.5"/>
<circle cx="177.29" cy="385.37" r="3.5"/>
<circle cx="179.57" cy="385.86" r="3.5"/>
<circle cx="181.85" cy="385.86" r="3.5"/>
<circle cx="184.13" cy="385.86" r="3.5"/>
<circle cx="186.41" cy="385.86" r="3.5"/>
<circle cx="188.7" cy="385.86" r="3.5"/>
<circle cx="190.98" cy="385.86" r="3.5"/>
<circle cx="193.26" cy="385.86" r="3.5"/>
<circle cx="195.54" cy="385.86" r="3.5"/>
<circle cx="197.82" cy="385.86" r="3.5"/>
<circle cx="200.1" cy="380.12" r="3.5"/>
<circle cx="202.38" cy="376.07" r="3.5"/>
<circle cx="204.67" cy="354.9" r="3.5"/>
<circle cx="206.95" cy="376.07" r="3.5"/>
<circle cx="209.23" cy="384.17" r="3.5"/>
<circle cx="211.51" cy="385.86" r="3.5"/>
<circle cx="213.79" cy="385.86" r="3.5"/>
<circle cx="216.07" cy="385.86" r="3.5"/>
<circle cx="218.35" cy="385.86" r="3.5"/>
<circle cx="220.63" cy="385.86" r="3.5"/>
<circle cx="222.92" cy="385.86" r="3.5"/>
<circle cx="225.2" cy="385.86" r="3.5"/>
<circle cx="227.48" cy="385.86" r="3.5"/>
<circle cx="229.76" cy="383.36" r="3.5"/>
<circle cx="232.04" cy="385.86" r="3.5"/>
<circle cx="234.32" cy="385.86" r="3.5"/>
<circle cx="236.6" cy="385.86" r="3.5"/>
<circle cx="238.89" cy="385.86" r="3.5"/>
<circle cx="241.17" cy="385.86" r="3.5"/>
<circle cx="243.45" cy="385.86" r="3.5"/>
<circle cx="245.73" cy="385.86" r="3.5"/>
<circle cx="248.01" cy="385.86" r="3.5"/>
<circle cx="250.29" cy="383.36" r="3.5"/>
<circle cx="252.57" cy="385.13" r="3.5"/>
<circle cx="254.85" cy="383.36" r="3.5"/>
<circle cx="257.14" cy="363.71" r="3.5"/>
<circle cx="259.42" cy="385.86" r="3.5"/>
<circle cx="261.7" cy="385.86" r="3.5"/>
<circle cx="263.98" cy="385.86" r="3.5"/>
<circle cx="266.26" cy="385.86" r="3.5"/>
<circle cx="268.54" cy="385.86" r="3.5"/>
<circle cx="270.82" cy="385.86" r="3.5"/>
<circle cx="273.11" cy="385.86" r="3.5"/>
<circle cx="275.39" cy="383.36" r="3.5"/>
<circle cx="277.67" cy="385.86" r="3.5"/>
<circle cx="279.95" cy="385.86" r="3.5"/>
<circle cx="282.23" cy="385.86" r="3.5"/>
<circle cx="284.51" cy="385.86" r="3.5"/>
<circle cx="286.79" cy="385.86" r="3.5"/>
<circle cx="289.07" cy="383.06" r="3.5"/>
<circle cx="291.36" cy="385.86" r="3.5"/>
<circle cx="293.64" cy="385.86" r="3.5"/>
<circle cx="295.92" cy="385.86" r="3.5"/>
<circle cx="298.2" cy="385.86" r="3.5"/>
<circle cx="300.48" cy="385.86" r="3.5"/>
<circle cx="302.76" cy="385.86" r="3.5"/>
<circle cx="305.04" cy="385.37" r="3.5"/>
<circle cx="307.33" cy="385.86" r="3.5"/>
<circle cx="309.61" cy="385.86" r="3.5"/>
<circle cx="311.89" cy="385.86" r="3.5"/>
<circle cx="314.17" cy="384.88" r="3.5"/>
<circle cx="316.45" cy="385.86" r="3.5"/>
<circle cx="318.73" cy="385.86" r="3.5"/>
<circle cx="321.01" cy="385.86" r="3.5"/>
<circle cx="323.29" cy="385.86" r="3.5"/>
<circle cx="325.58" cy="385.86" r="3.5"/>
<circle cx="327.86" cy="385.86" r="3.5"/>
<circle cx="330.14" cy="385.86" r="3.5"/>
<circle cx="332.42" cy="385.86" r="3.5"/>
<circle cx="334.7" cy="385.86" r="3.5"/>
<circle cx="336.98" cy="385.86" r="3.5"/>
<circle cx="339.26" cy="385.86" r="3.5"/>
<circle cx="341.55" cy="327.24" r="3.5"/>
<circle cx="343.83" cy="385.86" r="3.5"/>
<circle cx="346.11" cy="385.86" r="3.5"/>
<circle cx="348.39" cy="385.86" r="3.5"/>
<circle cx="350.67" cy="385.86" r="3.5"/>
<circle cx="352.95" cy="385.86" r="3.5"/>
<circle cx="355.23" cy="385.86" r="3.5"/>
<circle cx="357.51" cy="383.36" r="3.5"/>
<circle cx="359.8" cy="383.06" r="3.5"/>
<circle cx="362.08" cy="382.65" r="3.5"/>
<circle cx="364.36" cy="384.88" r="3.5"/>
<circle cx="366.64" cy="383.36" r="3.5"/>
<circle cx="368.92" cy="385.86" r="3.5"/>
<circle cx="371.2" cy="385.86" r="3.5"/>
<circle cx="373.48" cy="385.86" r="3.5"/>
<circle cx="375.77" cy="385.86" r="3.5"/>
<circle cx="378.05" cy="385.86" r="3.5"/>
<circle cx="380.33" cy="385.86" r="3.5"/>
<circle cx="382.61" cy="385.86" r="3.5"/>
<circle cx="384.89" cy="385.86" r="3.5"/>
<circle cx="387.17" cy="385.86" r="3.5"/>
<circle cx="389.45" cy="385.86" r="3.5"/>
<circle cx="391.73" cy="385.86" r="3.5"/>
<circle cx="394.02" cy="383.77" r="3.5"/>
<circle cx="396.3" cy="383.77" r="3.5"/>
<circle cx="398.58" cy="385.86" r="3.5"/>
<circle cx="400.86" cy="385.86" r="3.5"/>
<circle cx="403.14" cy="385.86" r="3.5"/>
<circle cx="405.42" cy="385.86" r="3.5"/>
<circle cx="407.7" cy="385.86" r="3.5"/>
<circle cx="409.99" cy="385.86" r="3.5"/>
<circle cx="412.27" cy="385.86" r="3.5"/>
<circle cx="414.55" cy="385.86" r="3.5"/>
<circle cx="416.83" cy="385.86" r="3.5"/>
<circle cx="419.11" cy="385.86" r="3.5"/>
<circle cx="421.39" cy="385.86" r="3.5"/>
<circle cx="423.67" cy="365.03" r="3.5"/>
<circle cx="425.96" cy="383.67" r="3.5"/>
<circle cx="428.24" cy="385.86" r="3.5"/>
<circle cx="430.52" cy="385.86" r="3.5"/>
<circle cx="432.8" cy="385.86" r="3.5"/>
<circle cx="435.08" cy="385.86" r="3.5"/>
<circle cx="437.36" cy="385.86" r="3.5"/>
<circle cx="439.64" cy="385.86" r="3.5"/>
<circle cx="441.92" cy="385.86" r="3.5"/>
<circle cx="444.21" cy="385.86" r="3.5"/>
<circle cx="446.49" cy="383.06" r="3.5"/>
<circle cx="448.77" cy="369.49" r="3.5"/>
<circle cx="451.05" cy="379.11" r="3.5"/>
<circle cx="453.33" cy="385.13" r="3.5"/>
<circle cx="455.61" cy="385.86" r="3.5"/>
<circle cx="457.89" cy="385.86" r="3.5"/>
<circle cx="460.18" cy="385.86" r="3.5"/>
<circle cx="462.46" cy="385.86" r="3.5"/>
<circle cx="464.74" cy="385.86" r="3.5"/>
<circle cx="467.02" cy="384.07" r="3.5"/>
<circle cx="469.3" cy="385.86" r="3.5"/>
<circle cx="471.58" cy="385.86" r="3.5"/>
<circle cx="473.86" cy="385.86" r="3.5"/>
<circle cx="476.14" cy="385.86" r="3.5"/>
<circle cx="478.43" cy="383.06" r="3.5"/>
<circle cx="480.71" cy="385.86" r="3.5"/>
<circle cx="482.99" cy="385.86" r="3.5"/>
<circle cx="485.27" cy="385.86" r="3.5"/>
<circle cx="487.55" cy="385.86" r="3.5"/>
<circle cx="489.83" cy="385.86" r="3.5"/>
<circle cx="492.11" cy="385.86" r="3.5"/>
<circle cx="494.4" cy="383.36" r="3.5"/>
<circle cx="496.68" cy="385.86" r="3.5"/>
<circle cx="498.96" cy="385.86" r="3.5"/>
<circle cx="501.24" cy="385.86" r="3.5"/>
<circle cx="503.52" cy="370.09" r="3.5"/>
<circle cx="505.8" cy="363" r="3.5"/>
<circle cx="508.08" cy="383.67" r="3.5"/>
<circle cx="510.36" cy="385.86" r="3.5"/>
<circle cx="512.65" cy="385.86" r="3.5"/>
<circle cx="514.93" cy="385.86" r="3.5"/>
<circle cx="517.21" cy="385.86" r="3.5"/>
<circle cx="519.49" cy="385.86" r="3.5"/>
<circle cx="521.77" cy="385.86" r="3.5"/>
<circle cx="524.05" cy="385.86" r="3.5"/>
<circle cx="526.33" cy="385.13" r="3.5"/>
<circle cx="528.62" cy="384.88" r="3.5"/>
<circle cx="530.9" cy="327.45" r="3.5"/>
<circle cx="533.18" cy="384.17" r="3.5"/>
<circle cx="535.46" cy="385.13" r="3.5"/>
</g>
<polyline points="60.94,377.69 63.22,381.13 65.5,362.6 67.78,384.68 70.07,376.68 72.35,385.39 74.63,386 76.91,386 79.19,386 81.47,386 83.75,386 86.04,386 88.32,384.68 90.6,383.97 92.88,385.19 95.16,352.67 97.44,292.5 99.72,385.19 102,386 104.29,386 106.57,386 108.85,386 111.13,386 113.41,385.19 115.69,377.89 117.97,383.06 120.26,373.84 122.54,384.98 124.82,386 127.1,386 129.38,386 131.66,386 133.94,386 136.22,386 138.51,384.68 140.79,383.16 143.07,381.44 145.35,381.13 147.63,381.64 149.91,374.45 152.19,385.59 154.48,386 156.76,386 159.04,386 161.32,386 163.6,383.16 165.88,384.98 168.16,383.16 170.44,382.35 172.73,381.13 175.01,342.13 177.29,385.59 179.57,386 181.85,386 184.13,386 186.41,386 188.7,386 190.98,386 193.26,386 195.54,386 197.82,386 200.1,384.17 202.38,380.53 204.67,363.91 206.95,378.6 209.23,385.39 211.51,386 213.79,386 216.07,386 218.35,386 220.63,386 222.92,386 225.2,386 227.48,386 229.76,384.88 232.04,386 234.32,386 236.6,386 238.89,386 241.17,386 243.45,386 245.73,386 248.01,386 250.29,384.88 252.57,385.39 254.85,385.39 257.14,378.6 259.42,386 261.7,386 263.98,386 266.26,386 268.54,386 270.82,386 273.11,386 275.39,384.88 277.67,386 279.95,386 282.23,386 284.51,386 286.79,386 289.07,384.58 291.36,386 293.64,386 295.92,386 298.2,386 300.48,386 302.76,386 305.04,385.59 307.33,386 309.61,386 311.89,386 314.17,385.19 316.45,386 318.73,386 321.01,386 323.29,386 325.58,386 327.86,386 330.14,386 332.42,386 334.7,386 336.98,386 339.26,386 341.55,342.34 343.83,386 346.11,386 348.39,386 350.67,386 352.95,386 355.23,386 357.51,384.88 359.8,384.58 362.08,382.65 364.36,385.19 366.64,384.88 368.92,386 371.2,386 373.48,386 375.77,386 378.05,386 380.33,386 382.61,386 384.89,386 387.17,386 389.45,386 391.73,386 394.02,385.19 396.3,385.19 398.58,386 400.86,386 403.14,386 405.42,386 407.7,386 409.99,386 412.27,386 414.55,386 416.83,386 419.11,386 421.39,386 423.67,385.19 425.96,386 428.24,386 430.52,386 432.8,386 435.08,386 437.36,386 439.64,386 441.92,386 444.21,386 446.49,385.59 448.77,373.54 451.05,381.13 453.33,385.39 455.61,386 457.89,386 460.18,386 462.46,386 464.74,386 467.02,385.39 469.3,386 471.58,386 473.86,386 476.14,386 478.43,384.88 480.71,386 482.99,386 485.27,386 487.55,386 489.83,386 492.11,386 494.4,384.98 496.68,386 498.96,386 501.24,386 503.52,378.91 505.8,382.05 508.08,385.19 510.36,386 512.65,386 514.93,386 517.21,386 519.49,386 521.77,386 524.05,386 526.33,385.39 528.62,385.19 530.9,362.7 533.18,385.39 535.46,385.39" fill="none" stroke="#FF0000" stroke-width="3.2" stroke-linejoin="round"/>
<g fill="#ED7D31" stroke="#FF0000" stroke-width="1.2">
<circle cx="60.94" cy="377.69" r="2.0"/>
<circle cx="63.22" cy="381.13" r="2.0"/>
<circle cx="65.5" cy="362.6" r="2.0"/>
<circle cx="67.78" cy="384.68" r="2.0"/>
<circle cx="70.07" cy="376.68" r="2.0"/>
<circle cx="72.35" cy="385.39" r="2.0"/>
<circle cx="74.63" cy="386" r="2.0"/>
<circle cx="76.91" cy="386" r="2.0"/>
<circle cx="79.19" cy="386" r="2.0"/>
<circle cx="81.47" cy="386" r="2.0"/>
<circle cx="83.75" cy="386" r="2.0"/>
<circle cx="86.04" cy="386" r="2.0"/>
<circle cx="88.32" cy="384.68" r="2.0"/>
<circle cx="90.6" cy="383.97" r="2.0"/>
<circle cx="92.88" cy="385.19" r="2.0"/>
<circle cx="95.16" cy="352.67" r="2.0"/>
<circle cx="97.44" cy="292.5" r="2.0"/>
<circle cx="99.72" cy="385.19" r="2.0"/>
<circle cx="102" cy="386" r="2.0"/>
<circle cx="104.29" cy="386" r="2.0"/>
<circle cx="106.57" cy="386" r="2.0"/>
<circle cx="108.85" cy="386" r="2.0"/>
<circle cx="111.13" cy="386" r="2.0"/>
<circle cx="113.41" cy="385.19" r="2.0"/>
<circle cx="115.69" cy="377.89" r="2.0"/>
<circle cx="117.97" cy="383.06" r="2.0"/>
<circle cx="120.26" cy="373.84" r="2.0"/>
<circle cx="122.54" cy="384.98" r="2.0"/>
<circle cx="124.82" cy="386" r="2.0"/>
<circle cx="127.1" cy="386" r="2.0"/>
<circle cx="129.38" cy="386" r="2.0"/>
<circle cx="131.66" cy="386" r="2.0"/>
<circle cx="133.94" cy="386" r="2.0"/>
<circle cx="136.22" cy="386" r="2.0"/>
<circle cx="138.51" cy="384.68" r="2.0"/>
<circle cx="140.79" cy="383.16" r="2.0"/>
<circle cx="143.07" cy="381.44" r="2.0"/>
<circle cx="145.35" cy="381.13" r="2.0"/>
<circle cx="147.63" cy="381.64" r="2.0"/>
<circle cx="149.91" cy="374.45" r="2.0"/>
<circle cx="152.19" cy="385.59" r="2.0"/>
<circle cx="154.48" cy="386" r="2.0"/>
<circle cx="156.76" cy="386" r="2.0"/>
<circle cx="159.04" cy="386" r="2.0"/>
<circle cx="161.32" cy="386" r="2.0"/>
<circle cx="163.6" cy="383.16" r="2.0"/>
<circle cx="165.88" cy="384.98" r="2.0"/>
<circle cx="168.16" cy="383.16" r="2.0"/>
<circle cx="170.44" cy="382.35" r="2.0"/>
<circle cx="172.73" cy="381.13" r="2.0"/>
<circle cx="175.01" cy="342.13" r="2.0"/>
<circle cx="177.29" cy="385.59" r="2.0"/>
<circle cx="179.57" cy="386" r="2.0"/>
<circle cx="181.85" cy="386" r="2.0"/>
<circle cx="184.13" cy="386" r="2.0"/>
<circle cx="186.41" cy="386" r="2.0"/>
<circle cx="188.7" cy="386" r="2.0"/>
<circle cx="190.98" cy="386" r="2.0"/>
<circle cx="193.26" cy="386" r="2.0"/>
<circle cx="195.54" cy="386" r="2.0"/>
<circle cx="197.82" cy="386" r="2.0"/>
<circle cx="200.1" cy="384.17" r="2.0"/>
<circle cx="202.38" cy="380.53" r="2.0"/>
<circle cx="204.67" cy="363.91" r="2.0"/>
<circle cx="206.95" cy="378.6" r="2.0"/>
<circle cx="209.23" cy="385.39" r="2.0"/>
<circle cx="211.51" cy="386" r="2.0"/>
<circle cx="213.79" cy="386" r="2.0"/>
<circle cx="216.07" cy="386" r="2.0"/>
<circle cx="218.35" cy="386" r="2.0"/>
<circle cx="220.63" cy="386" r="2.0"/>
<circle cx="222.92" cy="386" r="2.0"/>
<circle cx="225.2" cy="386" r="2.0"/>
<circle cx="227.48" cy="386" r="2.0"/>
<circle cx="229.76" cy="384.88" r="2.0"/>
<circle cx="232.04" cy="386" r="2.0"/>
<circle cx="234.32" cy="386" r="2.0"/>
<circle cx="236.6" cy="386" r="2.0"/>
<circle cx="238.89" cy="386" r="2.0"/>
<circle cx="241.17" cy="386" r="2.0"/>
<circle cx="243.45" cy="386" r="2.0"/>
<circle cx="245.73" cy="386" r="2.0"/>
<circle cx="248.01" cy="386" r="2.0"/>
<circle cx="250.29" cy="384.88" r="2.0"/>
<circle cx="252.57" cy="385.39" r="2.0"/>
<circle cx="254.85" cy="385.39" r="2.0"/>
<circle cx="257.14" cy="378.6" r="2.0"/>
<circle cx="259.42" cy="386" r="2.0"/>
<circle cx="261.7" cy="386" r="2.0"/>
<circle cx="263.98" cy="386" r="2.0"/>
<circle cx="266.26" cy="386" r="2.0"/>
<circle cx="268.54" cy="386" r="2.0"/>
<circle cx="270.82" cy="386" r="2.0"/>
<circle cx="273.11" cy="386" r="2.0"/>
<circle cx="275.39" cy="384.88" r="2.0"/>
<circle cx="277.67" cy="386" r="2.0"/>
<circle cx="279.95" cy="386" r="2.0"/>
<circle cx="282.23" cy="386" r="2.0"/>
<circle cx="284.51" cy="386" r="2.0"/>
<circle cx="286.79" cy="386" r="2.0"/>
<circle cx="289.07" cy="384.58" r="2.0"/>
<circle cx="291.36" cy="386" r="2.0"/>
<circle cx="293.64" cy="386" r="2.0"/>
<circle cx="295.92" cy="386" r="2.0"/>
<circle cx="298.2" cy="386" r="2.0"/>
<circle cx="300.48" cy="386" r="2.0"/>
<circle cx="302.76" cy="386" r="2.0"/>
<circle cx="305.04" cy="385.59" r="2.0"/>
<circle cx="307.33" cy="386" r="2.0"/>
<circle cx="309.61" cy="386" r="2.0"/>
<circle cx="311.89" cy="386" r="2.0"/>
<circle cx="314.17" cy="385.19" r="2.0"/>
<circle cx="316.45" cy="386" r="2.0"/>
<circle cx="318.73" cy="386" r="2.0"/>
<circle cx="321.01" cy="386" r="2.0"/>
<circle cx="323.29" cy="386" r="2.0"/>
<circle cx="325.58" cy="386" r="2.0"/>
<circle cx="327.86" cy="386" r="2.0"/>
<circle cx="330.14" cy="386" r="2.0"/>
<circle cx="332.42" cy="386" r="2.0"/>
<circle cx="334.7" cy="386" r="2.0"/>
<circle cx="336.98" cy="386" r="2.0"/>
<circle cx="339.26" cy="386" r="2.0"/>
<circle cx="341.55" cy="342.34" r="2.0"/>
<circle cx="343.83" cy="386" r="2.0"/>
<circle cx="346.11" cy="386" r="2.0"/>
<circle cx="348.39" cy="386" r="2.0"/>
<circle cx="350.67" cy="386" r="2.0"/>
<circle cx="352.95" cy="386" r="2.0"/>
<circle cx="355.23" cy="386" r="2.0"/>
<circle cx="357.51" cy="384.88" r="2.0"/>
<circle cx="359.8" cy="384.58" r="2.0"/>
<circle cx="362.08" cy="382.65" r="2.0"/>
<circle cx="364.36" cy="385.19" r="2.0"/>
<circle cx="366.64" cy="384.88" r="2.0"/>
<circle cx="368.92" cy="386" r="2.0"/>
<circle cx="371.2" cy="386" r="2.0"/>
<circle cx="373.48" cy="386" r="2.0"/>
<circle cx="375.77" cy="386" r="2.0"/>
<circle cx="378.05" cy="386" r="2.0"/>
<circle cx="380.33" cy="386" r="2.0"/>
<circle cx="382.61" cy="386" r="2.0"/>
<circle cx="384.89" cy="386" r="2.0"/>
<circle cx="387.17" cy="386" r="2.0"/>
<circle cx="389.45" cy="386" r="2.0"/>
<circle cx="391.73" cy="386" r="2.0"/>
<circle cx="394.02" cy="385.19" r="2.0"/>
<circle cx="396.3" cy="385.19" r="2.0"/>
<circle cx="398.58" cy="386" r="2.0"/>
<circle cx="400.86" cy="386" r="2.0"/>
<circle cx="403.14" cy="386" r="2.0"/>
<circle cx="405.42" cy="386" r="2.0"/>
<circle cx="407.7" cy="386" r="2.0"/>
<circle cx="409.99" cy="386" r="2.0"/>
<circle cx="412.27" cy="386" r="2.0"/>
<circle cx="414.55" cy="386" r="2.0"/>
<circle cx="416.83" cy="386" r="2.0"/>
<circle cx="419.11" cy="386" r="2.0"/>
<circle cx="421.39" cy="386" r="2.0"/>
<circle cx="423.67" cy="385.19" r="2.0"/>
<circle cx="425.96" cy="386" r="2.0"/>
<circle cx="428.24" cy="386" r="2.0"/>
<circle cx="430.52" cy="386" r="2.0"/>
<circle cx="432.8" cy="386" r="2.0"/>
<circle cx="435.08" cy="386" r="2.0"/>
<circle cx="437.36" cy="386" r="2.0"/>
<circle cx="439.64" cy="386" r="2.0"/>
<circle cx="441.92" cy="386" r="2.0"/>
<circle cx="444.21" cy="386" r="2.0"/>
<circle cx="446.49" cy="385.59" r="2.0"/>
<circle cx="448.77" cy="373.54" r="2.0"/>
<circle cx="451.05" cy="381.13" r="2.0"/>
<circle cx="453.33" cy="385.39" r="2.0"/>
<circle cx="455.61" cy="386" r="2.0"/>
<circle cx="457.89" cy="386" r="2.0"/>
<circle cx="460.18" cy="386" r="2.0"/>
<circle cx="462.46" cy="386" r="2.0"/>
<circle cx="464.74" cy="386" r="2.0"/>
<circle cx="467.02" cy="385.39" r="2.0"/>
<circle cx="469.3" cy="386" r="2.0"/>
<circle cx="471.58" cy="386" r="2.0"/>
<circle cx="473.86" cy="386" r="2.0"/>
<circle cx="476.14" cy="386" r="2.0"/>
<circle cx="478.43" cy="384.88" r="2.0"/>
<circle cx="480.71" cy="386" r="2.0"/>
<circle cx="482.99" cy="386" r="2.0"/>
<circle cx="485.27" cy="386" r="2.0"/>
<circle cx="487.55" cy="386" r="2.0"/>
<circle cx="489.83" cy="386" r="2.0"/>
<circle cx="492.11" cy="386" r="2.0"/>
<circle cx="494.4" cy="384.98" r="2.0"/>
<circle cx="496.68" cy="386" r="2.0"/>
<circle cx="498.96" cy="386" r="2.0"/>
<circle cx="501.24" cy="386" r="2.0"/>
<circle cx="503.52" cy="378.91" r="2.0"/>
<circle cx="505.8" cy="382.05" r="2.0"/>
<circle cx="508.08" cy="385.19" r="2.0"/>
<circle cx="510.36" cy="386" r="2.0"/>
<circle cx="512.65" cy="386" r="2.0"/>
<circle cx="514.93" cy="386" r="2.0"/>
<circle cx="517.21" cy="386" r="2.0"/>
<circle cx="519.49" cy="386" r="2.0"/>
<circle cx="521.77" cy="386" r="2.0"/>
<circle cx="524.05" cy="386" r="2.0"/>
<circle cx="526.33" cy="385.39" r="2.0"/>
<circle cx="528.62" cy="385.19" r="2.0"/>
<circle cx="530.9" cy="362.7" r="2.0"/>
<circle cx="533.18" cy="385.39" r="2.0"/>
<circle cx="535.46" cy="385.39" r="2.0"/>
</g>
<g font-size="12.5" fill="#111" text-anchor="end">
<text x="48.9" y="390.6">0</text>
<text x="48.9" y="370.34">200</text>
<text x="48.9" y="350.08">400</text>
<text x="48.9" y="329.82">600</text>
<text x="48.9" y="309.56">800</text>
<text x="48.9" y="289.3">1,000</text>
<text x="48.9" y="269.04">1,200</text>
<text x="48.9" y="248.78">1,400</text>
</g>
<g font-size="13.1" fill="#111" text-anchor="end">
<text transform="translate(64.84 393.3) rotate(-90)">Jan-01</text>
<text transform="translate(83.09 393.3) rotate(-90)">Sep-01</text>
<text transform="translate(101.34 393.3) rotate(-90)">May-02</text>
<text transform="translate(119.59 393.3) rotate(-90)">Jan-03</text>
<text transform="translate(137.84 393.3) rotate(-90)">Sep-03</text>
<text transform="translate(156.09 393.3) rotate(-90)">May-04</text>
<text transform="translate(174.34 393.3) rotate(-90)">Jan-05</text>
<text transform="translate(192.6 393.3) rotate(-90)">Sep-05</text>
<text transform="translate(210.85 393.3) rotate(-90)">May-06</text>
<text transform="translate(229.1 393.3) rotate(-90)">Jan-07</text>
<text transform="translate(247.35 393.3) rotate(-90)">Sep-07</text>
<text transform="translate(265.6 393.3) rotate(-90)">May-08</text>
<text transform="translate(283.85 393.3) rotate(-90)">Jan-09</text>
<text transform="translate(302.1 393.3) rotate(-90)">Sep-09</text>
<text transform="translate(320.35 393.3) rotate(-90)">May-10</text>
<text transform="translate(338.6 393.3) rotate(-90)">Jan-11</text>
<text transform="translate(356.85 393.3) rotate(-90)">Sep-11</text>
<text transform="translate(375.1 393.3) rotate(-90)">May-12</text>
<text transform="translate(393.35 393.3) rotate(-90)">Jan-13</text>
<text transform="translate(411.6 393.3) rotate(-90)">Sep-13</text>
<text transform="translate(429.86 393.3) rotate(-90)">May-14</text>
<text transform="translate(448.11 393.3) rotate(-90)">Jan-15</text>
<text transform="translate(466.36 393.3) rotate(-90)">Sep-15</text>
<text transform="translate(484.61 393.3) rotate(-90)">May-16</text>
<text transform="translate(502.86 393.3) rotate(-90)">Jan-17</text>
<text transform="translate(521.11 393.3) rotate(-90)">Sep-17</text>
<text transform="translate(539.36 393.3) rotate(-90)">May-18</text>
</g>
<text transform="translate(14 310) rotate(-90)" font-size="14.2" fill="#111" text-anchor="middle">Sediment load (ton/m)</text>
<line x1="307.8" y1="252.7" x2="314.2" y2="252.7" stroke="#2A35CC" stroke-width="3" stroke-linecap="round"/>
<line x1="321.5" y1="252.7" x2="328.5" y2="252.7" stroke="#2A35CC" stroke-width="3" stroke-linecap="round"/>
<line x1="333.6" y1="252.7" x2="339.8" y2="252.7" stroke="#2A35CC" stroke-width="3" stroke-linecap="round"/>
<circle cx="325.3" cy="252.7" r="2.8" fill="#5B9BD5" stroke="#2A35CC" stroke-width="1.1" stroke-dasharray="2.2 1.1"/>
<text x="348" y="256.6" font-size="12.6" fill="#555">Observation</text>
<line x1="427.8" y1="252.7" x2="463.2" y2="252.7" stroke="#FF0000" stroke-width="3" stroke-linecap="round"/>
<circle cx="445.5" cy="252.7" r="1.6" fill="#ED7D31" stroke="#FF0000" stroke-width="1"/>
<text x="468" y="256.6" font-size="12.6" fill="#555">Simulation</text>
</g>
<text x="298.2" y="460.5" font-size="16" fill="#111" text-anchor="middle">Date</text>
</svg>
</body></html>
